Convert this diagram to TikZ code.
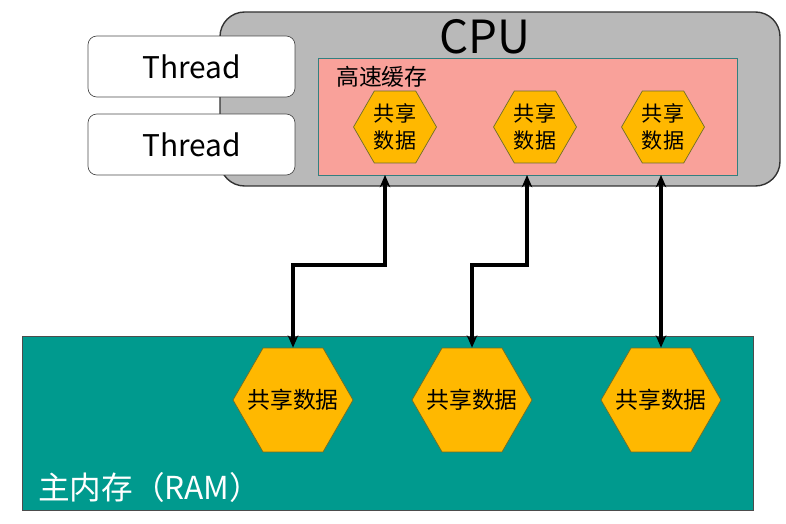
\documentclass[tikz,border=0pt]{standalone}
\usepackage{fontspec}
\setmainfont{Noto Sans CJK SC}
\usetikzlibrary{shapes.geometric,arrows.meta}
\definecolor{cpugray}{RGB}{185,185,185}
\definecolor{cachepink}{RGB}{249,161,154}
\definecolor{ramteal}{RGB}{0,154,142}
\definecolor{hexgold}{RGB}{255,184,0}
\definecolor{hexedge}{RGB}{110,110,40}
\tikzset{>={Stealth[length=7pt,width=6pt]}}
\tikzset{%
    hexa/.style={regular polygon,regular polygon sides=6,draw=hexedge,fill=hexgold,
        inner sep=0pt,align=center,font=\fontsize{12}{15}\selectfont},
    thread/.style={draw=black!70,fill=white,rounded corners=5pt,minimum width=4.14cm,
        minimum height=1.22cm,font=\fontsize{17}{20}\selectfont}
}
\begin{document}
\begin{tikzpicture}[x=0.02cm,y=-0.02cm]
    \useasboundingbox (0,0) rectangle (786,523);
    % cpu
    \draw[black!80,fill=cpugray,rounded corners=14pt,thick] (220,12) rectangle (780,186);
    \node[font=\fontsize{26}{30}\selectfont](cpu) at (485,37) {CPU};
    \node[thread](t1) at (191.5,66.5) {Thread};
    \node[thread](t2) at (191.5,144.5) {Thread};
    % cache
    \draw[draw=teal!60!gray,fill=cachepink] (318,58) rectangle (737,175);
    \node[anchor=west,font=\fontsize{13}{15}\selectfont](cache) at (330,77) {高速缓存};
    \node[hexa,minimum size=1.66cm](h1) at (395,127) {共享\\数据};
    \node[hexa,minimum size=1.66cm](h2) at (535,127) {共享\\数据};
    \node[hexa,minimum size=1.66cm](h3) at (663,127) {共享\\数据};
    \coordinate (c1) at (385,175);
    \coordinate (c2) at (527,175);
    \coordinate (c3) at (661,175);
    % ram
    \draw[draw=black!70,fill=ramteal] (22,336) rectangle (753,510);
    \node[anchor=west,text=white,font=\fontsize{18}{21}\selectfont](ram) at (32,487) {主内存（RAM）};
    \node[hexa,minimum size=2.4cm,font=\fontsize{13}{15}\selectfont](r1) at (293,400) {\makebox[0pt]{共享数据}};
    \node[hexa,minimum size=2.4cm,font=\fontsize{13}{15}\selectfont](r2) at (472,400) {\makebox[0pt]{共享数据}};
    \node[hexa,minimum size=2.4cm,font=\fontsize{13}{15}\selectfont](r3) at (661,400) {\makebox[0pt]{共享数据}};
    \coordinate (m) at (0,265);
    \draw[<->,line width=2pt] (c1) -- (c1 |- m) -| (r1.north);
    \draw[<->,line width=2pt] (c2) -- (c2 |- m) -| (r2.north);
    \draw[<->,line width=2pt] (c3) -- (r3.north);
\end{tikzpicture}
\end{document}
